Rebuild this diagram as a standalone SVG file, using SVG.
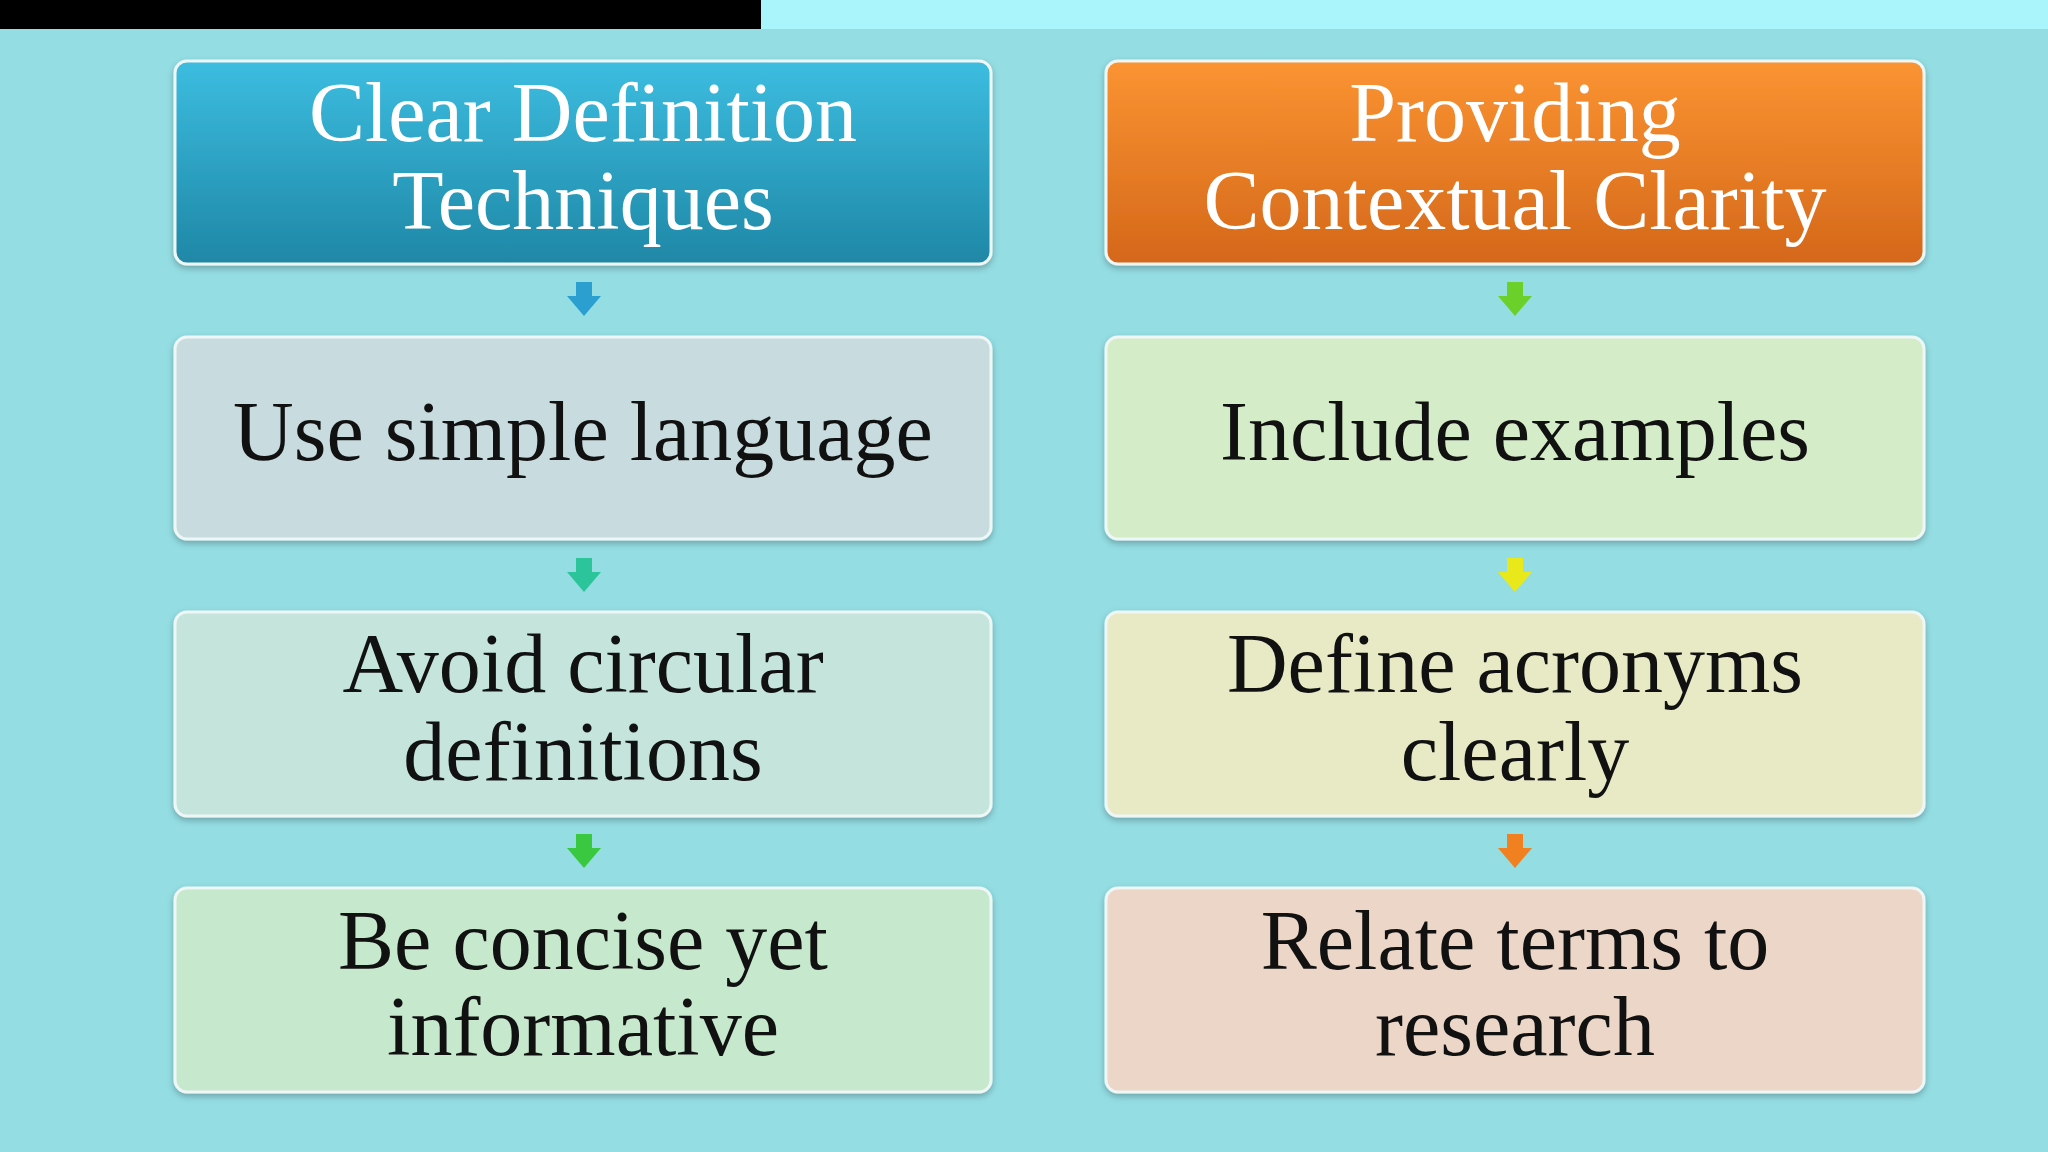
<svg xmlns="http://www.w3.org/2000/svg" width="2048" height="1152" viewBox="0 0 2048 1152">
<defs>
<linearGradient id="gb" x1="0" y1="0" x2="0" y2="1"><stop offset="0" stop-color="#3cbde0"/><stop offset="1" stop-color="#1f87a6"/></linearGradient>
<linearGradient id="go" x1="0" y1="0" x2="0" y2="1"><stop offset="0" stop-color="#fb9432"/><stop offset="1" stop-color="#d4671a"/></linearGradient>
<filter id="sh" x="-5%" y="-5%" width="110%" height="115%"><feDropShadow dx="0" dy="3" stdDeviation="3" flood-color="#000" flood-opacity="0.25"/></filter>
</defs>
<style>
.b{stroke:#eef6f6;stroke-width:3;filter:url(#sh)}
.t{font-family:"Liberation Serif","DejaVu Serif",serif;font-size:84px;text-anchor:middle;fill:#111}
.w{fill:#fff}
</style>
<rect width="2048" height="1152" fill="#93dde3"/>
<rect x="761" y="0" width="1287" height="29" fill="#a9f5fb"/>
<rect x="0" y="0" width="761" height="29" fill="#000"/>
<g id="n1"><rect class="b" x="175" y="61" width="816" height="203" rx="12" fill="url(#gb)"/><text class="t w" x="583" y="141">Clear Definition</text><text class="t w" x="583" y="229">Techniques</text></g>
<g id="n2"><rect class="b" x="175" y="337" width="816" height="202" rx="12" fill="#c8dce0"/><text class="t" x="583" y="460">Use simple language</text></g>
<g id="n3"><rect class="b" x="175" y="612" width="816" height="204" rx="12" fill="#c4e4dc"/><text class="t" x="583" y="692">Avoid circular</text><text class="t" x="583" y="780">definitions</text></g>
<g id="n4"><rect class="b" x="175" y="888" width="816" height="204" rx="12" fill="#c6e8cd"/><text class="t" x="583" y="969">Be concise yet</text><text class="t" x="583" y="1055">informative</text></g>
<g id="n5"><rect class="b" x="1106" y="61" width="818" height="203" rx="12" fill="url(#go)"/><text class="t w" x="1515" y="141">Providing</text><text class="t w" x="1515" y="229">Contextual Clarity</text></g>
<g id="n6"><rect class="b" x="1106" y="337" width="818" height="202" rx="12" fill="#d5ecc8"/><text class="t" x="1515" y="460">Include examples</text></g>
<g id="n7"><rect class="b" x="1106" y="612" width="818" height="204" rx="12" fill="#e8eac6"/><text class="t" x="1515" y="692">Define acronyms</text><text class="t" x="1515" y="780">clearly</text></g>
<g id="n8"><rect class="b" x="1106" y="888" width="818" height="204" rx="12" fill="#ecd6c8"/><text class="t" x="1515" y="969">Relate terms to</text><text class="t" x="1515" y="1055">research</text></g>
<g id="connectors">
<path d="M576 282h16v14h9l-17 20l-17-20h9z" fill="#2a9fd0"/>
<path d="M576 558h16v14h9l-17 20l-17-20h9z" fill="#2cc49a"/>
<path d="M576 834h16v14h9l-17 20l-17-20h9z" fill="#3ac840"/>
<path d="M1507 282h16v14h9l-17 20l-17-20h9z" fill="#6cd02a"/>
<path d="M1507 558h16v14h9l-17 20l-17-20h9z" fill="#e8e81a"/>
<path d="M1507 834h16v14h9l-17 20l-17-20h9z" fill="#f08020"/>
</g>
</svg>
